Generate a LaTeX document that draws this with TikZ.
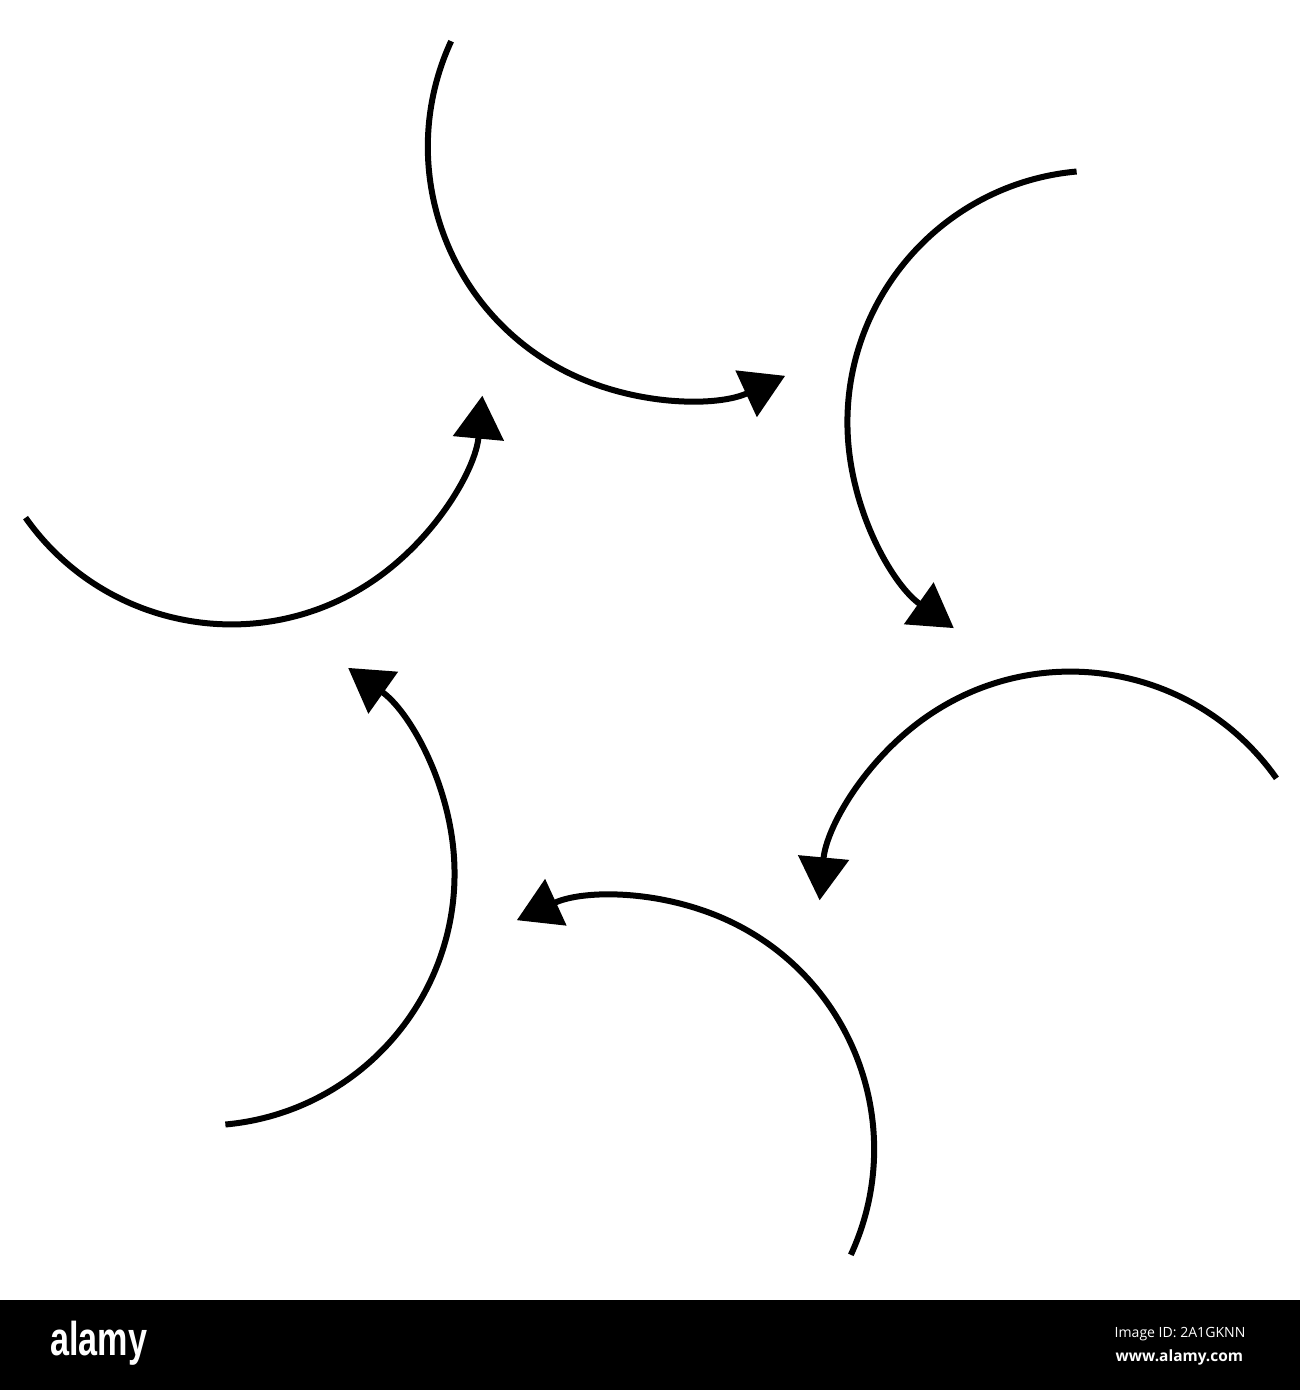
\documentclass[tikz,border=0pt]{standalone}
\usepackage{fontspec}
\newfontfamily\logofont{Liberation Sans}
\newfontfamily\idfont{Open Sans}
\usepackage{tikz}
\usetikzlibrary{arrows.meta}

\begin{document}
\begin{tikzpicture}[
    turn/.style={line width=0.6mm, black, -{Triangle[length=4.3mm, width=5mm]}},
    band/.style={fill=black},
    logo/.style={font=\logofont\bfseries\fontsize{13.5}{13.5}\selectfont, white, inner sep=0pt, anchor=base west, xscale=0.72},
    idtext/.style={font=\idfont\fontsize{4}{4}\selectfont, white, inner sep=0pt, anchor=base west},
    webtext/.style={font=\idfont\bfseries\fontsize{4.4}{4.4}\selectfont, white, inner sep=0pt, anchor=base west}
]
\useasboundingbox (-6.51,-7.42) rectangle (6.49,6.48);
% ARC 1: top
\begin{scope}[shift={(86.7:5.02)}]
    \draw[turn] (155.2:2.52) arc[start angle=155.2, end angle=294.7, radius=2.52];
\end{scope}
% ARC 2: upper right
\begin{scope}[shift={(26.7:5.02)}]
    \draw[turn] (95.2:2.52) arc[start angle=95.2, end angle=234.7, radius=2.52];
\end{scope}
% ARC 3: lower right
\begin{scope}[shift={(-33.3:5.02)}]
    \draw[turn] (35.2:2.52) arc[start angle=35.2, end angle=174.7, radius=2.52];
\end{scope}
% ARC 4: bottom
\begin{scope}[shift={(-93.3:5.02)}]
    \draw[turn] (-24.8:2.52) arc[start angle=-24.8, end angle=114.7, radius=2.52];
\end{scope}
% ARC 5: lower left
\begin{scope}[shift={(-153.3:5.02)}]
    \draw[turn] (-84.8:2.52) arc[start angle=-84.8, end angle=54.7, radius=2.52];
\end{scope}
% ARC 6: upper left
\begin{scope}[shift={(146.7:5.02)}]
    \draw[turn] (215.2:2.52) arc[start angle=215.2, end angle=354.7, radius=2.52];
\end{scope}
% Stock banner
\fill[band] (-6.51,-6.52) rectangle (6.49,-7.42);
\node[logo] (logo) at (-6.01,-7.07) {alamy};
\node[idtext] (imageid) at (4.63,-6.89) {Image ID: 2A1GKNN};
\node[webtext] (website) at (4.64,-7.13) {www.alamy.com};
\end{tikzpicture}
\end{document}
